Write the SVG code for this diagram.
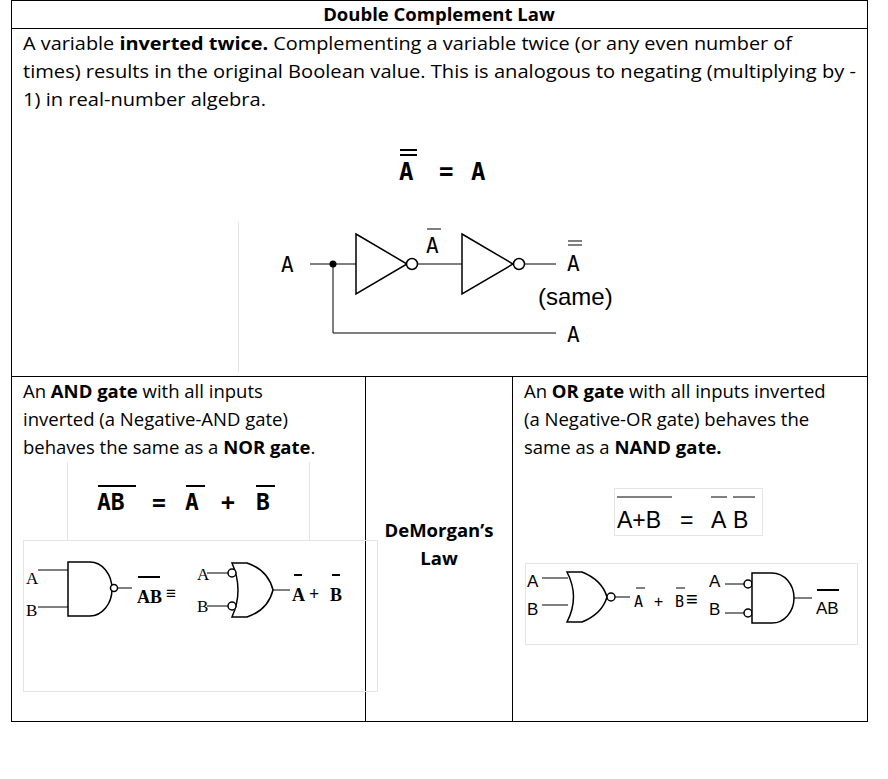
<svg xmlns="http://www.w3.org/2000/svg" width="888" height="779" viewBox="0 0 888 779">
<style>
.t{font-family:"Open Sans","Liberation Sans",sans-serif;font-size:18.5px;fill:#000}
.b{font-weight:bold}
.m{font-family:"DejaVu Sans Mono","Liberation Mono",monospace;fill:#000}
.h{font-family:"Liberation Sans",sans-serif;fill:#000}
.s{font-family:"Liberation Serif",serif;fill:#000}
.w{stroke:#000;stroke-width:2;fill:none}
.g{stroke:#000;stroke-width:1.5;fill:#fff}
.f{stroke:#e4e4e4;stroke-width:1;fill:none}
.k{stroke:#000;stroke-width:1;fill:none}
</style>
<rect width="888" height="779" fill="#fff"/>
<g id="table">
<rect x="11.5" y="0.5" width="856" height="721" class="k"/>
<line x1="11" y1="28.5" x2="867" y2="28.5" class="k"/>
<line x1="11" y1="376.5" x2="867" y2="376.5" class="k"/>
<line x1="365.5" y1="376" x2="365.5" y2="721" class="k"/>
<line x1="512.5" y1="376" x2="512.5" y2="721" class="k"/>
</g>
<g id="title"><text x="439" y="21" class="t b" text-anchor="middle">Double Complement Law</text></g>
<g id="desc">
<text x="23" y="50" class="t" textLength="769" lengthAdjust="spacingAndGlyphs">A variable <tspan class="b">inverted twice.</tspan> Complementing a variable twice (or any even number of</text>
<text x="23" y="78" class="t" textLength="833" lengthAdjust="spacingAndGlyphs">times) results in the original Boolean value. This is analogous to negating (multiplying by -</text>
<text x="23" y="106" class="t" textLength="243" lengthAdjust="spacingAndGlyphs">1) in real-number algebra.</text>
</g>
<g id="double-eq">
<text x="399" y="180" class="m b" font-size="24">A</text>
<text x="439" y="180" class="m b" font-size="24">=</text>
<text x="471" y="180" class="m b" font-size="24">A</text>
<line x1="400" y1="150" x2="417" y2="150" class="w"/>
<line x1="400" y1="155" x2="417" y2="155" class="w"/>
</g>
<line x1="238.5" y1="222" x2="238.5" y2="372" class="f"/>
<g id="circuit">
<text x="281" y="272" class="m" font-size="21">A</text>
<path d="M310,264H356M418,264H462M525,264H556M333,264V333H556" class="k" stroke-width="1.5"/>
<circle cx="333" cy="264" r="3.5" fill="#000"/>
<path d="M356,234L407,264L356,294Z" class="g"/>
<circle cx="412" cy="264" r="5.5" class="g"/>
<path d="M462,234L513,264L462,294Z" class="g"/>
<circle cx="519" cy="264" r="5.5" class="g"/>
<text x="426" y="253" class="m" font-size="21">A</text>
<line x1="427" y1="229" x2="441" y2="229" class="k" stroke-width="1.5"/>
<text x="567" y="271" class="m" font-size="21">A</text>
<line x1="568" y1="241" x2="582" y2="241" class="k" stroke-width="1.5"/>
<line x1="568" y1="245" x2="582" y2="245" class="k" stroke-width="1.5"/>
<text x="538" y="305" class="h" font-size="24">(same)</text>
<text x="567" y="342" class="m" font-size="21">A</text>
</g>
<g id="and-text">
<text x="23" y="398" class="t">An <tspan class="b">AND gate</tspan> with all inputs</text>
<text x="23" y="426" class="t">inverted (a Negative-AND gate)</text>
<text x="23" y="454" class="t">behaves the same as a <tspan class="b">NOR gate</tspan>.</text>
</g>
<g id="and-eq">
<path d="M67.5,462V540M309.5,462V540" class="f"/>
<text x="97" y="510" class="m b" font-size="23">AB</text>
<text x="152" y="510" class="m b" font-size="23">=</text>
<text x="185" y="510" class="m b" font-size="23">A</text>
<text x="221" y="510" class="m b" font-size="23">+</text>
<text x="256" y="510" class="m b" font-size="23">B</text>
<path d="M98,486H136M186,486H205M256,486H275" class="w" stroke-width="2.5"/>
</g>
<g id="and-gates">
<rect x="23.5" y="540.5" width="354" height="151" class="f"/>
<text x="26" y="584" class="s" font-size="17">A</text>
<text x="26" y="616" class="s" font-size="17">B</text>
<path d="M38,570H68M38,607H68M117,588H132" class="k" stroke-width="1.3"/>
<path d="M68,562H90A22,27 0 0 1 90,616H68Z" class="g"/>
<circle cx="114" cy="588" r="3.5" class="g"/>
<text x="137" y="603" class="s b" font-size="18">AB</text>
<line x1="138" y1="577" x2="160" y2="577" class="w" stroke-width="2.5"/>
<text x="166" y="599" class="h" font-size="17">≡</text>
<text x="197" y="580" class="s" font-size="17">A</text>
<text x="197" y="612" class="s" font-size="17">B</text>
<path d="M207,573H228M207,606H228M273,590H290" class="k" stroke-width="1.3"/>
<path d="M232,563H247Q268,570 273,590Q268,610 247,617H232Q244,590 232,563Z" class="g"/>
<circle cx="232" cy="573" r="4" class="g"/>
<circle cx="232" cy="606" r="4" class="g"/>
<text x="292" y="601" class="s b" font-size="18">A</text>
<text x="309" y="600" class="s b" font-size="18">+</text>
<text x="330" y="601" class="s b" font-size="18">B</text>
<path d="M294,575H302M332,575H340" class="w" stroke-width="2.5"/>
</g>
<g id="demorgan">
<text x="439" y="537" class="t b" text-anchor="middle">DeMorgan’s</text>
<text x="439" y="565" class="t b" text-anchor="middle">Law</text>
</g>
<g id="or-text">
<text x="524" y="398" class="t">An <tspan class="b">OR gate</tspan> with all inputs inverted</text>
<text x="524" y="426" class="t">(a Negative-OR gate) behaves the</text>
<text x="524" y="454" class="t">same as a <tspan class="b">NAND gate.</tspan></text>
</g>
<g id="or-eq">
<rect x="614.5" y="488.5" width="148" height="47" class="f"/>
<text x="617" y="528" class="h" font-size="23">A+B</text>
<text x="680" y="528" class="h" font-size="23">=</text>
<text x="711" y="528" class="h" font-size="23">A</text>
<text x="733" y="528" class="h" font-size="23">B</text>
<path d="M617,497H672M711,497H727M733,497H755" class="k" stroke-width="1.2"/>
</g>
<g id="or-gates">
<rect x="525.5" y="563.5" width="332" height="81" class="f"/>
<text x="527" y="587" class="h" font-size="17">A</text>
<text x="527" y="615" class="h" font-size="17">B</text>
<path d="M542,578H568M542,605H568M615,597H630" class="k" stroke-width="1.3"/>
<path d="M567,572H582Q602,580 607,597Q602,614 582,622H567Q580,597 567,572Z" class="g"/>
<circle cx="611" cy="597" r="4" class="g"/>
<text x="634" y="607" class="m" font-size="15">A</text>
<text x="654" y="607" class="m" font-size="15">+</text>
<text x="675" y="607" class="m" font-size="15">B</text>
<path d="M636,588H645M676,588H685" class="k" stroke-width="2"/>
<text x="686" y="606" class="h" font-size="20">≡</text>
<text x="709" y="587" class="h" font-size="17">A</text>
<text x="709" y="615" class="h" font-size="17">B</text>
<path d="M725,584H744M725,613H744M794,598H812" class="k" stroke-width="1.3"/>
<circle cx="748" cy="584" r="4" class="g"/>
<circle cx="748" cy="613" r="4" class="g"/>
<path d="M752,573H772A22,25 0 0 1 772,623H752Z" class="g"/>
<text x="816" y="614" class="h" font-size="17">AB</text>
<line x1="817" y1="590" x2="839" y2="590" class="w" stroke-width="3.5"/>
</g>
</svg>
